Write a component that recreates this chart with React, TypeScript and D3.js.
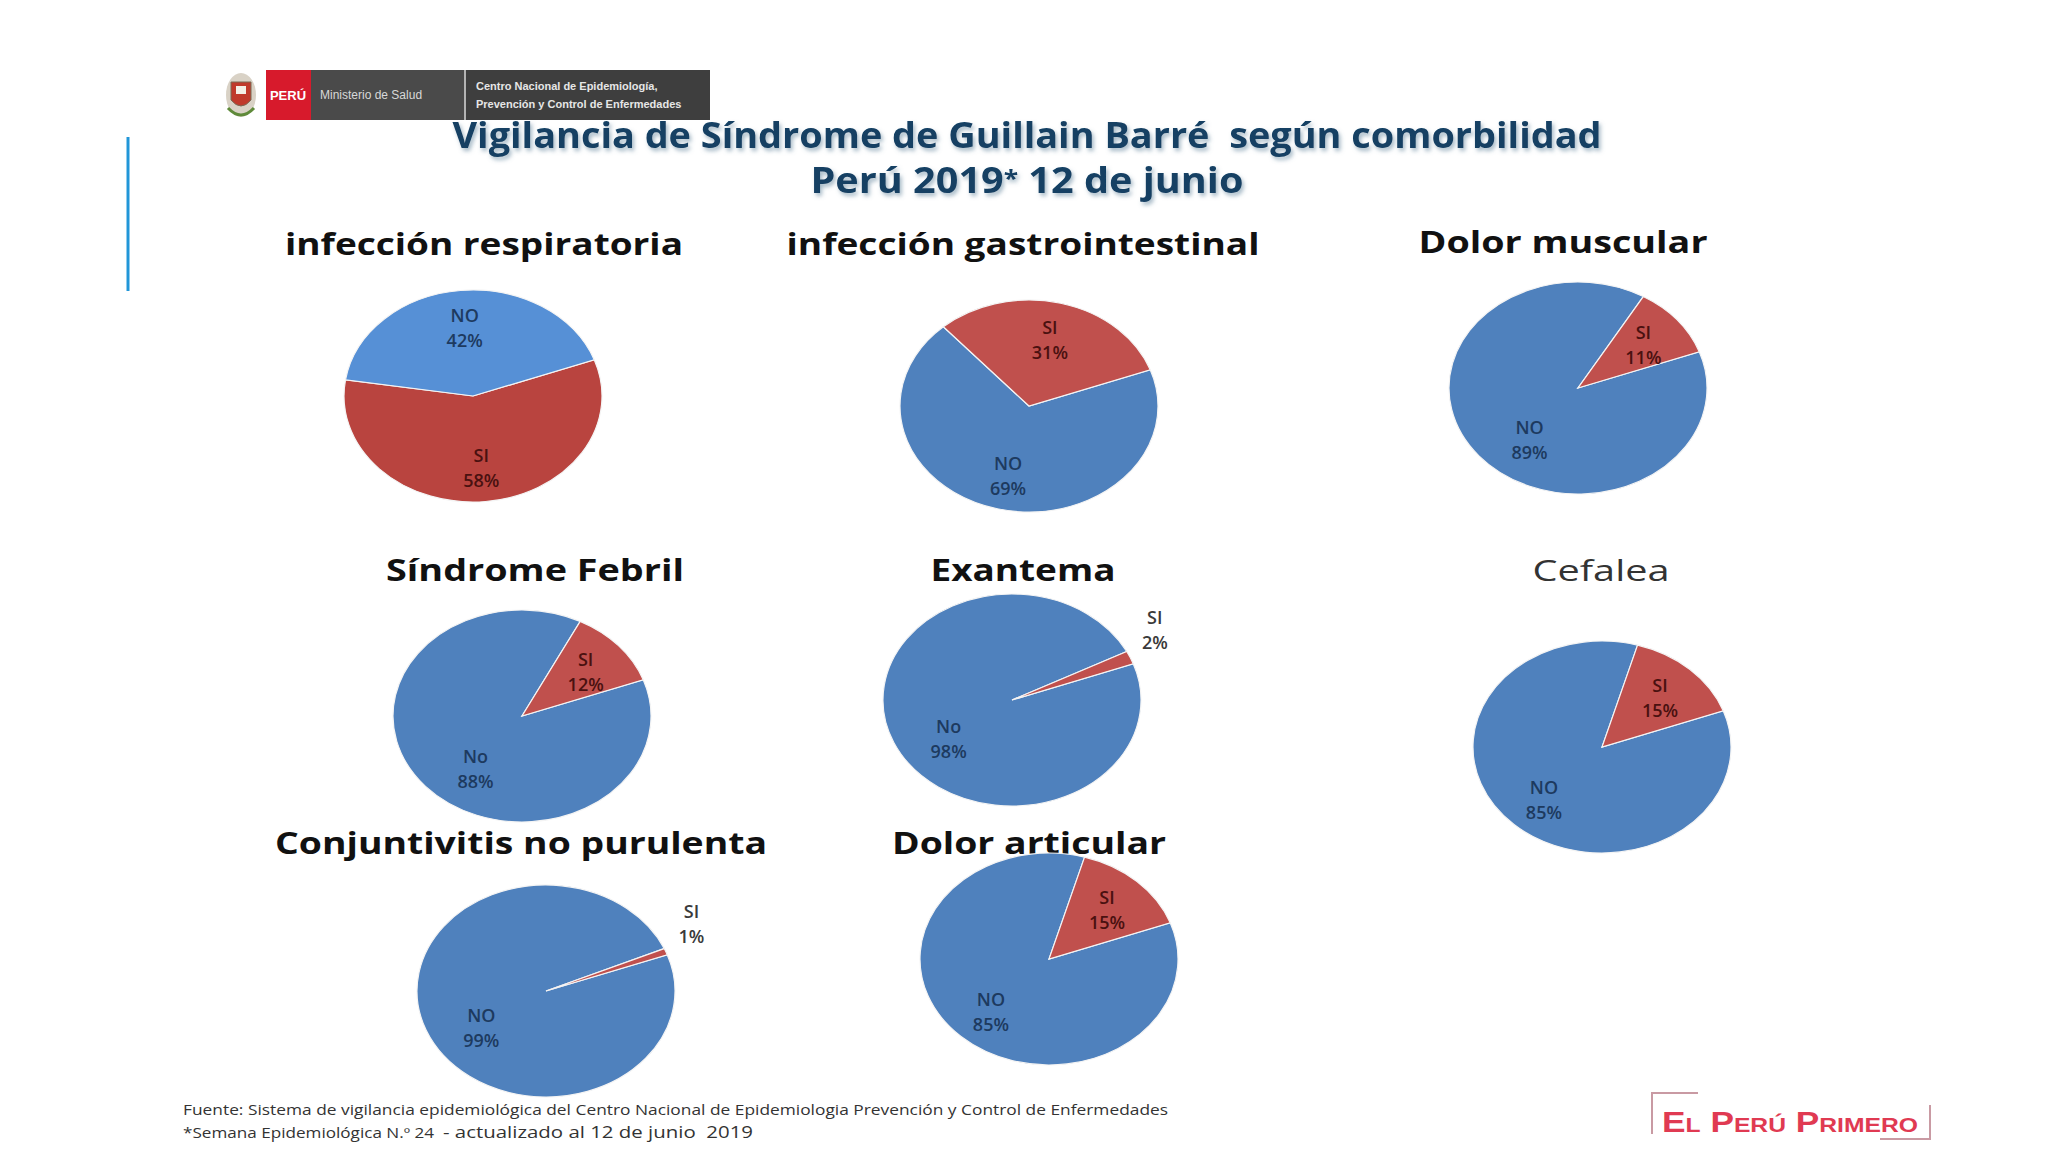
import React, { useEffect, useRef } from "react";
import * as d3 from "d3";

// ---- data ----
const chartTitles = [
  "infección respiratoria",
  "infección gastrointestinal",
  "Dolor muscular",
  "Síndrome Febril",
  "Exantema",
  "Cefalea",
  "Conjuntivitis no purulenta",
  "Dolor articular",
];
const siValues = [58, 31, 11, 12, 2, 15, 1, 15];
const noValues = [42, 69, 89, 88, 98, 85, 99, 85];
const siLabels = ["SI", "SI", "SI", "SI", "SI", "SI", "SI", "SI"];
const noLabels = ["NO", "NO", "NO", "No", "No", "NO", "NO", "NO"];
// series order in each pie (first one starts at the pie's first angle)
const siFirst = [true, false, false, false, false, false, false, false];

const mainTitle = ["Vigilancia de Síndrome de Guillain Barré  según comorbilidad", "Perú 2019", "*", " 12 de junio"];
const footNotes = [
  "Fuente: Sistema de vigilancia epidemiológica del Centro Nacional de Epidemiologia Prevención y Control de Enfermedades",
  "*Semana Epidemiológica N.º 24  ",
  "- actualizado al 12 de junio  2019",
];

// ---- layout ----
const W = 2048, H = 1152;
const RX = 129, RY = 106;
const pieCenters: [number, number][] = [
  [473, 396], [1029, 406], [1578, 388],
  [522, 716], [1012, 700], [1602, 747],
  [546, 991], [1049, 959],
];
const titlePos: [number, number, number][] = [
  [484, 255, 398], [1023, 255, 473], [1563, 253, 289],
  [535, 581, 298], [1023, 581, 185], [1601, 581, 137],
  [521, 854, 492], [1029, 854, 274],
];
const boldTitle = [true, true, true, true, true, false, true, true];
const firstAngle = (70 / 180) * Math.PI;

const BLUE = "#4F81BD";
const BLUE_LIGHT = "#5690D6";
const RED = "#C0504D";
const RED_DARK = "#B9443F";

type Slice = { key: string; label: string; value: number };

const App = () => {
  const ref = useRef<SVGSVGElement>(null);

  useEffect(() => {
    const svg = d3.select(ref.current);
    svg.selectAll("*").remove();

    const defs = svg.append("defs");
    const f = defs.append("filter").attr("id", "tshadow").attr("x", "-5%").attr("y", "-30%").attr("width", "110%").attr("height", "160%");
    f.append("feDropShadow").attr("dx", 2).attr("dy", 3).attr("stdDeviation", 2)
      .attr("flood-color", "#5c7f99").attr("flood-opacity", 0.55);

    svg.append("rect").attr("width", W).attr("height", H).attr("fill", "#ffffff");

    // accent line on the left
    svg.append("line").attr("x1", 128).attr("x2", 128).attr("y1", 137).attr("y2", 291)
      .attr("stroke", "#2196D8").attr("stroke-width", 3);

    // ministry banner
    const banner = svg.append("g").attr("id", "banner");
    banner.append("ellipse").attr("cx", 241).attr("cy", 95).attr("rx", 15).attr("ry", 22).attr("fill", "#d9d2c6");
    banner.append("path").attr("d", "M231,82 L251,82 L251,100 Q241,112 231,100 Z").attr("fill", "#c0392b").attr("stroke", "#7a6a55");
    banner.append("rect").attr("x", 236).attr("y", 86).attr("width", 10).attr("height", 8).attr("fill", "#f3efe6");
    banner.append("path").attr("d", "M228,108 Q241,122 254,108").attr("fill", "none").attr("stroke", "#5f8a3a").attr("stroke-width", 3);
    banner.append("rect").attr("x", 266).attr("y", 70).attr("width", 45).attr("height", 50).attr("fill", "#D71A2C");
    banner.append("text").attr("x", 288).attr("y", 100).attr("text-anchor", "middle").attr("fill", "#fff")
      .style("font", "600 13px 'Liberation Sans Narrow', 'Liberation Sans', sans-serif").text("PERÚ");
    banner.append("rect").attr("x", 311).attr("y", 70).attr("width", 153).attr("height", 50).attr("fill", "#4a4a4a");
    banner.append("text").attr("x", 320).attr("y", 99).attr("fill", "#d8d8d8")
      .style("font", "12px 'Liberation Sans Narrow', 'Liberation Sans', sans-serif").text("Ministerio de Salud");
    banner.append("line").attr("x1", 465).attr("x2", 465).attr("y1", 70).attr("y2", 120).attr("stroke", "#9a9a9a").attr("stroke-width", 1.5);
    banner.append("rect").attr("x", 466).attr("y", 70).attr("width", 244).attr("height", 50).attr("fill", "#3e3e3e");
    banner.append("text").attr("x", 476).attr("y", 90).attr("fill", "#e6e6e6")
      .style("font", "600 11px 'Liberation Sans Narrow', 'Liberation Sans', sans-serif").text("Centro Nacional de Epidemiología,");
    banner.append("text").attr("x", 476).attr("y", 108).attr("fill", "#e6e6e6")
      .style("font", "600 11px 'Liberation Sans Narrow', 'Liberation Sans', sans-serif").text("Prevención y Control de Enfermedades");

    // main title
    const tg = svg.append("g").attr("id", "title").attr("filter", "url(#tshadow)");
    tg.append("text").attr("x", 1027).attr("y", 148).attr("text-anchor", "middle")
      .attr("fill", "#123f63").attr("textLength", 1149).attr("lengthAdjust", "spacingAndGlyphs")
      .style("font", "700 36px 'Open Sans', sans-serif").style("white-space", "pre").text(mainTitle[0]);
    const t2 = tg.append("text").attr("x", 1027).attr("y", 193).attr("text-anchor", "middle")
      .attr("fill", "#123f63").attr("textLength", 433).attr("lengthAdjust", "spacingAndGlyphs")
      .style("font", "700 36px 'Open Sans', sans-serif").style("white-space", "pre");
    t2.append("tspan").text(mainTitle[1]);
    t2.append("tspan").attr("dy", -6).style("font-size", "24px").text(mainTitle[2]);
    t2.append("tspan").attr("dy", 6).text(mainTitle[3]);

    // pies
    const pie = d3.pie<Slice>()
      .sort(null)
      .value((d) => d.value)
      .startAngle(firstAngle)
      .endAngle(firstAngle + 2 * Math.PI);
    const arc = d3.arc<d3.PieArcDatum<Slice>>().innerRadius(0).outerRadius(RX);

    chartTitles.forEach((title, i) => {
      const [cx, cy] = pieCenters[i];
      const [tx, ty, tw] = titlePos[i];
      const g = svg.append("g").attr("id", "pie" + i);

      g.append("text").attr("x", tx).attr("y", ty).attr("text-anchor", "middle")
        .attr("fill", boldTitle[i] ? "#111" : "#333")
        .attr("textLength", tw).attr("lengthAdjust", "spacingAndGlyphs")
        .style("font", (boldTitle[i] ? "700" : "400") + " 30px 'Open Sans', sans-serif")
        .text(title);

      const si = { key: "si", label: siLabels[i], value: siValues[i] };
      const no = { key: "no", label: noLabels[i], value: noValues[i] };
      const arcs = pie(siFirst[i] ? [si, no] : [no, si]);

      const body = g.append("g").attr("transform", `translate(${cx},${cy}) scale(1,${RY / RX})`);
      body.selectAll("path").data(arcs).join("path")
        .attr("d", arc)
        .attr("fill", (d) => d.data.key === "si" ? (i === 0 ? RED_DARK : RED) : (i === 0 ? BLUE_LIGHT : BLUE))
        .attr("stroke", "#f4f4f4").attr("stroke-width", 1.2)
        .attr("vector-effect", "non-scaling-stroke");

      const total = d3.sum(arcs, (a) => a.value);
      arcs.forEach((d) => {
        const share = d.value / total;
        const outside = share < 0.05;
        const big = share > 0.85;
        const r = outside ? 1.3 * RX : big ? 0.6 * RX : 0.66 * RX;
        const mid = (d.startAngle + d.endAngle) / 2 - (outside ? 0.14 : big ? 0.2 : 0);
        const lx = cx + r * Math.sin(mid);
        const ly = cy - r * Math.cos(mid) * (RY / RX);
        const color = outside ? "#3a3a3a" : d.data.key === "si" ? "#4a1110" : "#1d3a5f";
        const t = g.append("text").attr("text-anchor", "middle").attr("fill", color)
          .style("font", "600 18px 'Open Sans', sans-serif");
        t.append("tspan").attr("x", lx).attr("y", ly - 4).text(d.data.label);
        t.append("tspan").attr("x", lx).attr("y", ly + 21).text(d.data.value + "%");
      });
    });

    // footnotes
    svg.append("text").attr("x", 183).attr("y", 1115).attr("fill", "#333")
      .attr("textLength", 985).attr("lengthAdjust", "spacingAndGlyphs")
      .style("font", "14px 'Open Sans', sans-serif").text(footNotes[0]);
    const fn2 = svg.append("text").attr("x", 183).attr("y", 1138).attr("fill", "#333")
      .style("white-space", "pre").style("font", "14px 'Open Sans', sans-serif");
    fn2.append("tspan").attr("textLength", 260).attr("lengthAdjust", "spacingAndGlyphs").text(footNotes[1]);
    fn2.append("tspan").style("font-size", "17px").attr("textLength", 310).attr("lengthAdjust", "spacingAndGlyphs").text(footNotes[2]);

    // brand mark
    const brand = svg.append("g").attr("id", "brand");
    brand.append("path").attr("d", "M1698,1093 L1652,1093 L1652,1134").attr("fill", "none").attr("stroke", "#c99aa3").attr("stroke-width", 2);
    brand.append("path").attr("d", "M1880,1139 L1930,1139 L1930,1105").attr("fill", "none").attr("stroke", "#c99aa3").attr("stroke-width", 2);
    brand.append("text").attr("x", 1662).attr("y", 1132).attr("fill", "#e03a52")
      .attr("textLength", 256).attr("lengthAdjust", "spacingAndGlyphs")
      .style("font", "700 30px 'Liberation Sans', sans-serif").style("font-variant", "small-caps")
      .text("El Perú Primero");
  }, []);

  return (
    <svg ref={ref} width={W} height={H} style={{ position: "absolute", left: 0, top: 0, display: "block" }} />
  );
};

export default App;
